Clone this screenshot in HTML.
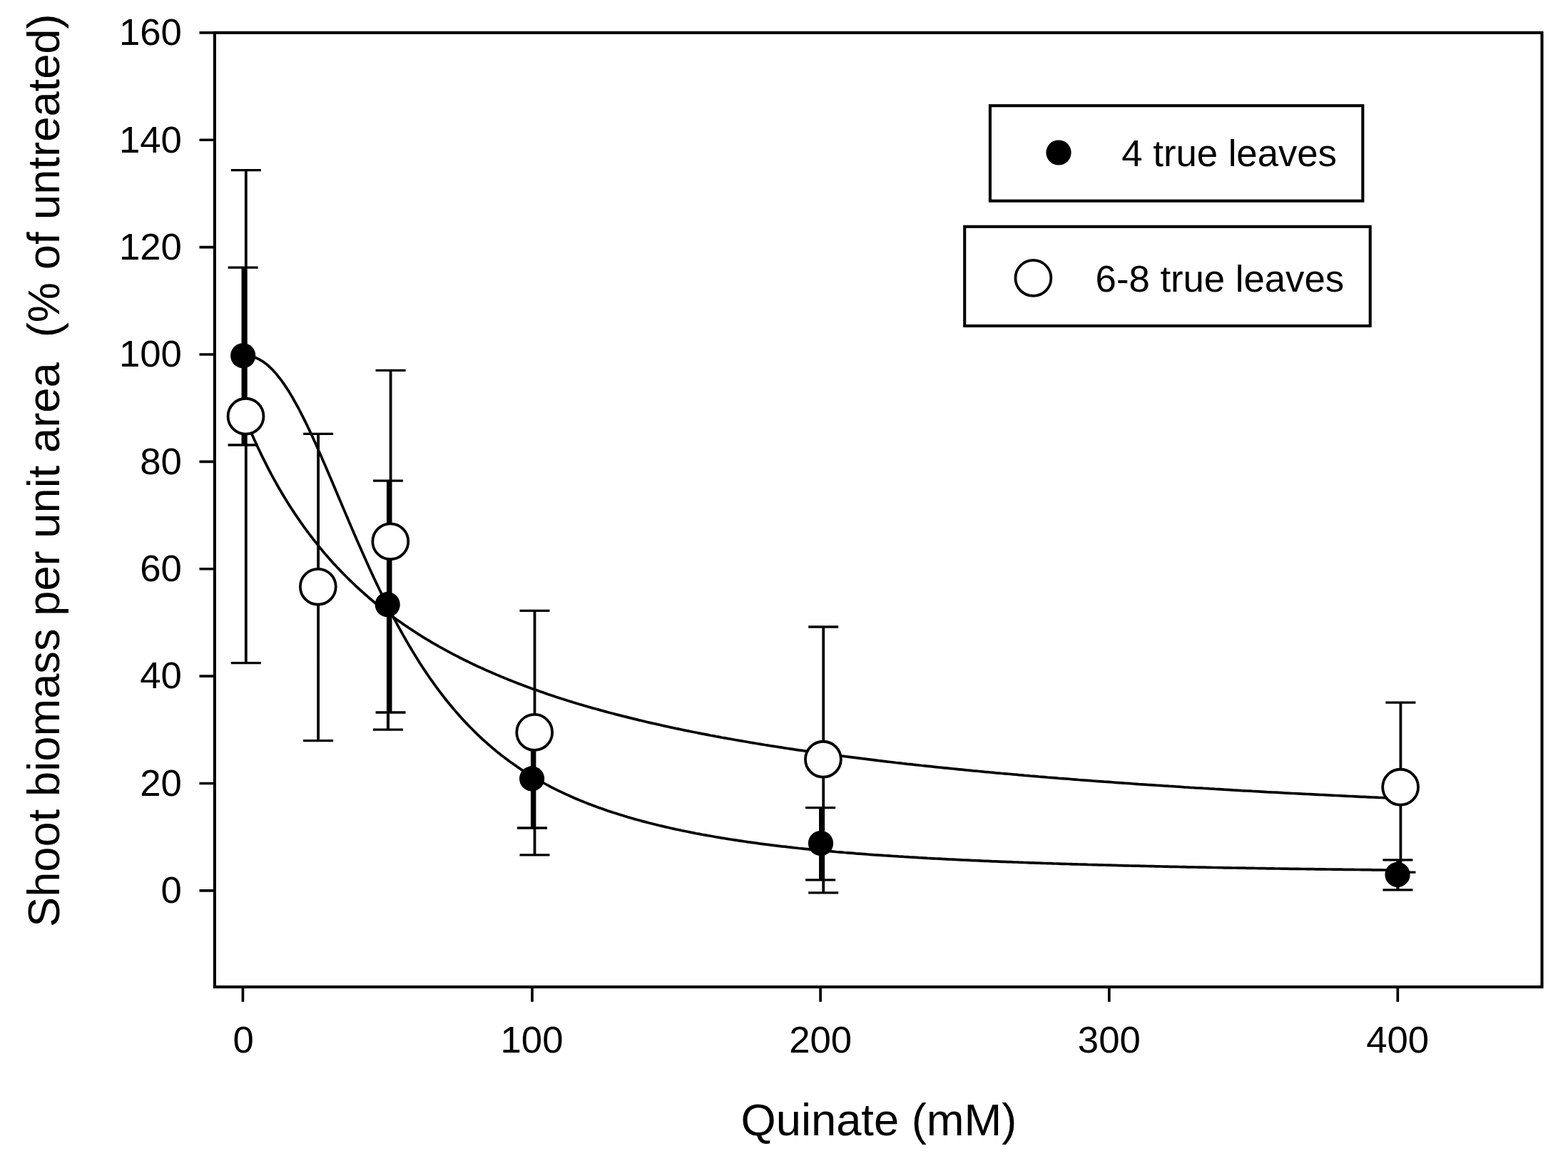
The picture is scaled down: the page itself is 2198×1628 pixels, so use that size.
<!DOCTYPE html>
<html lang="en"><head><meta charset="utf-8"><title>Quinate dose response</title>
<style>html,body{margin:0;padding:0;background:#fff}body{width:2198px;height:1628px;overflow:hidden}svg{display:block}text{font-family:"Liberation Sans",sans-serif;fill:#000}</style>
</head><body>
<svg width="2198" height="1628" viewBox="0 0 2198 1628" role="img" aria-label="Shoot biomass per unit area versus quinate dose">
<rect x="0" y="0" width="2198" height="1628" fill="#fff"/>
<g fill="none" stroke="#000" stroke-width="3.7" stroke-linejoin="round" stroke-linecap="butt">
<path d="M340.6,498.4 L342.6,498.5 L344.6,498.6 L346.6,498.7 L348.6,499.0 L350.6,499.3 L352.6,499.8 L354.6,500.3 L356.6,501.0 L358.6,501.7 L360.6,502.6 L362.6,503.5 L364.6,504.6 L366.6,505.8 L368.6,507.0 L370.6,508.4 L372.6,509.9 L374.6,511.5 L376.5,513.2 L378.5,515.1 L380.5,517.0 L382.5,519.0 L384.5,521.2 L386.5,523.4 L388.5,525.8 L390.5,528.3 L392.5,530.8 L394.5,533.5 L396.5,536.3 L398.5,539.1 L400.5,542.1 L402.5,545.2 L404.5,548.3 L406.5,551.5 L408.5,554.9 L410.5,558.3 L412.5,561.8 L414.5,565.3 L416.5,569.0 L418.5,572.7 L420.5,576.5 L422.5,580.4 L424.5,584.3 L426.5,588.3 L428.5,592.4 L430.5,596.5 L432.5,600.7 L434.5,604.9 L436.5,609.2 L438.5,613.5 L440.5,617.9 L442.5,622.3 L444.5,626.7 L446.4,631.2 L448.4,635.7 L450.4,640.3 L452.4,644.9 L454.4,649.5 L456.4,654.1 L458.4,658.8 L460.4,663.4 L462.4,668.1 L464.4,672.8 L466.4,677.5 L468.4,682.3 L470.4,687.0 L472.4,691.7 L474.4,696.5 L476.4,701.2 L478.4,705.9 L480.4,710.7 L482.4,715.4 L484.4,720.1 L486.4,724.8 L488.4,729.5 L490.4,734.2 L492.4,738.9 L494.4,743.5 L496.4,748.2 L498.4,752.8 L500.4,757.4 L502.4,762.0 L504.4,766.5 L506.4,771.1 L508.4,775.6 L510.4,780.0 L512.4,784.5 L514.4,788.9 L516.3,793.3 L518.3,797.7 L520.3,802.1 L522.3,806.4 L524.3,810.7 L526.3,814.9 L528.3,819.1 L530.3,823.3 L532.3,827.5 L534.3,831.6 L536.3,835.7 L538.3,839.7 L540.3,843.8 L542.3,847.7 L544.3,851.7 L546.3,855.6 L548.3,859.5 L550.3,863.3 L552.3,867.1 L554.3,870.9 L556.3,874.6 L558.3,878.3 L560.3,881.9 L562.3,885.5 L564.3,889.1 L566.3,892.7 L568.3,896.2 L570.3,899.6 L572.3,903.1 L574.3,906.5 L576.3,909.8 L578.3,913.1 L580.3,916.4 L582.3,919.7 L584.3,922.9 L586.2,926.1 L588.2,929.2 L590.2,932.3 L592.2,935.4 L594.2,938.4 L596.2,941.4 L598.2,944.4 L600.2,947.3 L602.2,950.2 L604.2,953.1 L606.2,955.9 L608.2,958.7 L610.2,961.5 L612.2,964.2 L614.2,966.9 L616.2,969.6 L618.2,972.2 L620.2,974.8 L622.2,977.4 L624.2,980.0 L626.2,982.5 L628.2,985.0 L630.2,987.4 L632.2,989.8 L634.2,992.2 L636.2,994.6 L638.2,996.9 L640.2,999.2 L642.2,1001.5 L644.2,1003.8 L646.2,1006.0 L648.2,1008.2 L650.2,1010.4 L652.2,1012.5 L654.2,1014.6 L656.1,1016.7 L658.1,1018.8 L660.1,1020.8 L662.1,1022.8 L664.1,1024.8 L666.1,1026.8 L668.1,1028.7 L670.1,1030.7 L672.1,1032.6 L674.1,1034.4 L676.1,1036.3 L678.1,1038.1 L680.1,1039.9 L682.1,1041.7 L684.1,1043.5 L686.1,1045.2 L688.1,1046.9 L690.1,1048.6 L692.1,1050.3 L694.1,1051.9 L696.1,1053.6 L698.1,1055.2 L700.1,1056.8 L702.1,1058.4 L704.1,1059.9 L706.1,1061.5 L708.1,1063.0 L710.1,1064.5 L712.1,1066.0 L714.1,1067.5 L716.1,1068.9 L718.1,1070.3 L720.1,1071.8 L722.1,1073.1 L724.1,1074.5 L726.0,1075.9 L728.0,1077.2 L730.0,1078.6 L732.0,1079.9 L734.0,1081.2 L736.0,1082.5 L738.0,1083.8 L740.0,1085.0 L742.0,1086.3 L744.0,1087.5 L746.0,1088.7 L748.0,1089.9 L750.0,1091.1 L752.0,1092.2 L754.0,1093.4 L756.0,1094.5 L758.0,1095.7 L760.0,1096.8 L764.0,1099.0 L768.0,1101.1 L772.0,1103.3 L776.0,1105.3 L780.0,1107.3 L784.0,1109.3 L788.0,1111.2 L792.0,1113.1 L796.0,1114.9 L800.0,1116.7 L804.0,1118.5 L808.0,1120.2 L812.0,1121.9 L816.0,1123.5 L820.0,1125.1 L824.0,1126.7 L828.0,1128.3 L832.0,1129.8 L836.0,1131.3 L840.0,1132.7 L844.0,1134.1 L848.0,1135.5 L852.0,1136.9 L856.0,1138.2 L860.0,1139.6 L864.0,1140.8 L868.0,1142.1 L872.0,1143.3 L876.0,1144.6 L880.0,1145.8 L884.1,1146.9 L888.1,1148.1 L892.1,1149.2 L896.1,1150.3 L900.1,1151.4 L904.1,1152.4 L908.1,1153.5 L912.1,1154.5 L916.1,1155.5 L920.1,1156.5 L924.1,1157.5 L928.1,1158.4 L932.1,1159.4 L936.1,1160.3 L940.1,1161.2 L944.1,1162.1 L948.1,1163.0 L952.1,1163.8 L956.1,1164.7 L960.1,1165.5 L964.1,1166.3 L968.1,1167.1 L972.1,1167.9 L976.1,1168.7 L980.1,1169.4 L984.1,1170.2 L988.1,1170.9 L992.1,1171.6 L996.1,1172.3 L1000.1,1173.0 L1004.1,1173.7 L1008.1,1174.4 L1012.1,1175.1 L1016.1,1175.7 L1020.1,1176.4 L1024.1,1177.0 L1028.1,1177.6 L1032.1,1178.2 L1036.1,1178.8 L1040.1,1179.4 L1044.1,1180.0 L1048.1,1180.6 L1052.1,1181.1 L1056.1,1181.7 L1060.1,1182.2 L1064.1,1182.8 L1068.1,1183.3 L1072.1,1183.8 L1076.1,1184.3 L1080.1,1184.8 L1084.1,1185.3 L1088.1,1185.8 L1092.1,1186.3 L1096.1,1186.8 L1100.1,1187.2 L1104.1,1187.7 L1108.1,1188.1 L1112.1,1188.6 L1116.1,1189.0 L1120.1,1189.5 L1124.2,1189.9 L1128.2,1190.3 L1132.2,1190.7 L1136.2,1191.1 L1140.2,1191.5 L1144.2,1191.9 L1148.2,1192.3 L1152.2,1192.6 L1156.2,1193.0 L1160.2,1193.4 L1164.2,1193.7 L1168.2,1194.1 L1172.2,1194.5 L1176.2,1194.8 L1180.2,1195.1 L1184.2,1195.5 L1188.2,1195.8 L1192.2,1196.1 L1196.2,1196.4 L1200.2,1196.8 L1204.2,1197.1 L1208.2,1197.4 L1212.2,1197.7 L1216.2,1198.0 L1220.2,1198.3 L1224.2,1198.6 L1228.2,1198.8 L1232.2,1199.1 L1236.2,1199.4 L1240.2,1199.7 L1244.2,1199.9 L1248.2,1200.2 L1252.2,1200.5 L1256.2,1200.7 L1260.2,1201.0 L1264.2,1201.2 L1268.2,1201.5 L1272.2,1201.7 L1276.2,1202.0 L1280.2,1202.2 L1284.2,1202.4 L1288.2,1202.7 L1292.2,1202.9 L1296.2,1203.1 L1300.2,1203.4 L1304.2,1203.6 L1308.2,1203.8 L1312.2,1204.0 L1316.2,1204.2 L1320.2,1204.4 L1324.2,1204.6 L1328.2,1204.8 L1332.2,1205.0 L1336.2,1205.2 L1340.2,1205.4 L1344.2,1205.6 L1348.2,1205.8 L1352.2,1206.0 L1356.2,1206.2 L1360.2,1206.4 L1364.3,1206.6 L1368.3,1206.7 L1372.3,1206.9 L1376.3,1207.1 L1380.3,1207.3 L1384.3,1207.4 L1388.3,1207.6 L1392.3,1207.8 L1396.3,1207.9 L1400.3,1208.1 L1404.3,1208.3 L1408.3,1208.4 L1412.3,1208.6 L1416.3,1208.7 L1420.3,1208.9 L1424.3,1209.0 L1428.3,1209.2 L1432.3,1209.3 L1436.3,1209.5 L1440.3,1209.6 L1444.3,1209.8 L1448.3,1209.9 L1452.3,1210.1 L1456.3,1210.2 L1460.3,1210.3 L1464.3,1210.5 L1468.3,1210.6 L1472.3,1210.7 L1476.3,1210.9 L1480.3,1211.0 L1484.3,1211.1 L1488.3,1211.3 L1492.3,1211.4 L1496.3,1211.5 L1500.3,1211.6 L1504.3,1211.8 L1508.3,1211.9 L1512.3,1212.0 L1516.3,1212.1 L1520.3,1212.2 L1524.3,1212.4 L1528.3,1212.5 L1532.3,1212.6 L1536.3,1212.7 L1540.3,1212.8 L1544.3,1212.9 L1548.3,1213.0 L1552.3,1213.1 L1556.3,1213.2 L1560.3,1213.3 L1564.3,1213.4 L1568.3,1213.6 L1572.3,1213.7 L1576.3,1213.8 L1580.3,1213.9 L1584.3,1214.0 L1588.3,1214.1 L1592.3,1214.2 L1596.3,1214.2 L1600.3,1214.3 L1604.4,1214.4 L1608.4,1214.5 L1612.4,1214.6 L1616.4,1214.7 L1620.4,1214.8 L1624.4,1214.9 L1628.4,1215.0 L1632.4,1215.1 L1636.4,1215.2 L1640.4,1215.3 L1644.4,1215.3 L1648.4,1215.4 L1652.4,1215.5 L1656.4,1215.6 L1660.4,1215.7 L1664.4,1215.8 L1668.4,1215.8 L1672.4,1215.9 L1676.4,1216.0 L1680.4,1216.1 L1684.4,1216.2 L1688.4,1216.2 L1692.4,1216.3 L1696.4,1216.4 L1700.4,1216.5 L1704.4,1216.5 L1708.4,1216.6 L1712.4,1216.7 L1716.4,1216.8 L1720.4,1216.8 L1724.4,1216.9 L1728.4,1217.0 L1732.4,1217.0 L1736.4,1217.1 L1740.4,1217.2 L1744.4,1217.2 L1748.4,1217.3 L1752.4,1217.4 L1756.4,1217.4 L1760.4,1217.5 L1764.4,1217.6 L1768.4,1217.6 L1772.4,1217.7 L1776.4,1217.8 L1780.4,1217.8 L1784.4,1217.9 L1788.4,1218.0 L1792.4,1218.0 L1796.4,1218.1 L1800.4,1218.1 L1804.4,1218.2 L1808.4,1218.3 L1812.4,1218.3 L1816.4,1218.4 L1820.4,1218.4 L1824.4,1218.5 L1828.4,1218.5 L1832.4,1218.6 L1836.4,1218.7 L1840.4,1218.7 L1844.5,1218.8 L1848.5,1218.8 L1852.5,1218.9 L1856.5,1218.9 L1860.5,1219.0 L1864.5,1219.0 L1868.5,1219.1 L1872.5,1219.1 L1876.5,1219.2 L1880.5,1219.2 L1884.5,1219.3 L1888.5,1219.3 L1892.5,1219.4 L1896.5,1219.4 L1900.5,1219.5 L1904.5,1219.5 L1908.5,1219.6 L1912.5,1219.6 L1916.5,1219.7 L1920.5,1219.7 L1924.5,1219.8 L1928.5,1219.8 L1932.5,1219.9 L1936.5,1219.9 L1940.5,1220.0 L1944.5,1220.0 L1948.5,1220.0 L1952.5,1220.1 L1956.5,1220.1 L1960.5,1220.2"/>
<path d="M340.6,579.0 L342.6,584.0 L344.6,588.9 L346.6,593.7 L348.6,598.5 L350.6,603.1 L352.6,607.7 L354.6,612.3 L356.6,616.7 L358.6,621.1 L360.6,625.5 L362.6,629.7 L364.6,633.9 L366.6,638.1 L368.6,642.2 L370.6,646.2 L372.6,650.2 L374.6,654.1 L376.5,657.9 L378.5,661.7 L380.5,665.5 L382.5,669.2 L384.5,672.8 L386.5,676.4 L388.5,680.0 L390.5,683.5 L392.5,686.9 L394.5,690.3 L396.5,693.7 L398.5,697.0 L400.5,700.3 L402.5,703.5 L404.5,706.7 L406.5,709.9 L408.5,713.0 L410.5,716.0 L412.5,719.1 L414.5,722.1 L416.5,725.0 L418.5,727.9 L420.5,730.8 L422.5,733.7 L424.5,736.5 L426.5,739.3 L428.5,742.0 L430.5,744.8 L432.5,747.5 L434.5,750.1 L436.5,752.7 L438.5,755.3 L440.5,757.9 L442.5,760.4 L444.5,762.9 L446.4,765.4 L448.4,767.9 L450.4,770.3 L452.4,772.7 L454.4,775.1 L456.4,777.4 L458.4,779.7 L460.4,782.0 L462.4,784.3 L464.4,786.5 L466.4,788.7 L468.4,790.9 L470.4,793.1 L472.4,795.3 L474.4,797.4 L476.4,799.5 L478.4,801.6 L480.4,803.6 L482.4,805.7 L484.4,807.7 L486.4,809.7 L488.4,811.7 L490.4,813.6 L492.4,815.6 L494.4,817.5 L496.4,819.4 L498.4,821.3 L500.4,823.2 L502.4,825.0 L504.4,826.8 L506.4,828.6 L508.4,830.4 L510.4,832.2 L512.4,834.0 L514.4,835.7 L516.3,837.4 L518.3,839.2 L520.3,840.8 L522.3,842.5 L524.3,844.2 L526.3,845.8 L528.3,847.5 L530.3,849.1 L532.3,850.7 L534.3,852.3 L536.3,853.9 L538.3,855.4 L540.3,857.0 L542.3,858.5 L544.3,860.0 L546.3,861.5 L548.3,863.0 L550.3,864.5 L552.3,866.0 L554.3,867.4 L556.3,868.9 L558.3,870.3 L560.3,871.7 L562.3,873.1 L564.3,874.5 L566.3,875.9 L568.3,877.3 L570.3,878.6 L572.3,880.0 L574.3,881.3 L576.3,882.6 L578.3,883.9 L580.3,885.2 L582.3,886.5 L584.3,887.8 L586.2,889.1 L588.2,890.3 L590.2,891.6 L592.2,892.8 L594.2,894.1 L596.2,895.3 L598.2,896.5 L600.2,897.7 L602.2,898.9 L604.2,900.1 L606.2,901.3 L608.2,902.4 L610.2,903.6 L612.2,904.7 L614.2,905.9 L616.2,907.0 L618.2,908.1 L620.2,909.2 L622.2,910.3 L624.2,911.4 L626.2,912.5 L628.2,913.6 L630.2,914.7 L632.2,915.7 L634.2,916.8 L636.2,917.8 L638.2,918.9 L640.2,919.9 L642.2,920.9 L644.2,922.0 L646.2,923.0 L648.2,924.0 L650.2,925.0 L652.2,926.0 L654.2,927.0 L656.1,927.9 L658.1,928.9 L660.1,929.9 L662.1,930.8 L664.1,931.8 L666.1,932.7 L668.1,933.6 L670.1,934.6 L672.1,935.5 L674.1,936.4 L676.1,937.3 L678.1,938.2 L680.1,939.1 L682.1,940.0 L684.1,940.9 L686.1,941.8 L688.1,942.6 L690.1,943.5 L692.1,944.4 L694.1,945.2 L696.1,946.1 L698.1,946.9 L700.1,947.8 L702.1,948.6 L704.1,949.4 L706.1,950.3 L708.1,951.1 L710.1,951.9 L712.1,952.7 L714.1,953.5 L716.1,954.3 L718.1,955.1 L720.1,955.9 L722.1,956.7 L724.1,957.4 L726.0,958.2 L728.0,959.0 L730.0,959.7 L732.0,960.5 L734.0,961.2 L736.0,962.0 L738.0,962.7 L740.0,963.5 L742.0,964.2 L744.0,964.9 L746.0,965.7 L748.0,966.4 L750.0,967.1 L752.0,967.8 L754.0,968.5 L756.0,969.2 L758.0,969.9 L760.0,970.6 L764.0,972.0 L768.0,973.4 L772.0,974.7 L776.0,976.0 L780.0,977.4 L784.0,978.7 L788.0,980.0 L792.0,981.2 L796.0,982.5 L800.0,983.7 L804.0,985.0 L808.0,986.2 L812.0,987.4 L816.0,988.6 L820.0,989.7 L824.0,990.9 L828.0,992.1 L832.0,993.2 L836.0,994.3 L840.0,995.4 L844.0,996.5 L848.0,997.6 L852.0,998.7 L856.0,999.8 L860.0,1000.8 L864.0,1001.9 L868.0,1002.9 L872.0,1003.9 L876.0,1004.9 L880.0,1005.9 L884.1,1006.9 L888.1,1007.9 L892.1,1008.9 L896.1,1009.9 L900.1,1010.8 L904.1,1011.8 L908.1,1012.7 L912.1,1013.6 L916.1,1014.5 L920.1,1015.4 L924.1,1016.3 L928.1,1017.2 L932.1,1018.1 L936.1,1019.0 L940.1,1019.9 L944.1,1020.7 L948.1,1021.6 L952.1,1022.4 L956.1,1023.2 L960.1,1024.1 L964.1,1024.9 L968.1,1025.7 L972.1,1026.5 L976.1,1027.3 L980.1,1028.1 L984.1,1028.9 L988.1,1029.6 L992.1,1030.4 L996.1,1031.2 L1000.1,1031.9 L1004.1,1032.7 L1008.1,1033.4 L1012.1,1034.2 L1016.1,1034.9 L1020.1,1035.6 L1024.1,1036.3 L1028.1,1037.0 L1032.1,1037.7 L1036.1,1038.4 L1040.1,1039.1 L1044.1,1039.8 L1048.1,1040.5 L1052.1,1041.2 L1056.1,1041.8 L1060.1,1042.5 L1064.1,1043.2 L1068.1,1043.8 L1072.1,1044.5 L1076.1,1045.1 L1080.1,1045.8 L1084.1,1046.4 L1088.1,1047.0 L1092.1,1047.6 L1096.1,1048.2 L1100.1,1048.9 L1104.1,1049.5 L1108.1,1050.1 L1112.1,1050.7 L1116.1,1051.3 L1120.1,1051.9 L1124.2,1052.4 L1128.2,1053.0 L1132.2,1053.6 L1136.2,1054.2 L1140.2,1054.7 L1144.2,1055.3 L1148.2,1055.8 L1152.2,1056.4 L1156.2,1057.0 L1160.2,1057.5 L1164.2,1058.0 L1168.2,1058.6 L1172.2,1059.1 L1176.2,1059.6 L1180.2,1060.2 L1184.2,1060.7 L1188.2,1061.2 L1192.2,1061.7 L1196.2,1062.2 L1200.2,1062.7 L1204.2,1063.2 L1208.2,1063.7 L1212.2,1064.2 L1216.2,1064.7 L1220.2,1065.2 L1224.2,1065.7 L1228.2,1066.2 L1232.2,1066.7 L1236.2,1067.1 L1240.2,1067.6 L1244.2,1068.1 L1248.2,1068.5 L1252.2,1069.0 L1256.2,1069.5 L1260.2,1069.9 L1264.2,1070.4 L1268.2,1070.8 L1272.2,1071.3 L1276.2,1071.7 L1280.2,1072.2 L1284.2,1072.6 L1288.2,1073.0 L1292.2,1073.5 L1296.2,1073.9 L1300.2,1074.3 L1304.2,1074.7 L1308.2,1075.2 L1312.2,1075.6 L1316.2,1076.0 L1320.2,1076.4 L1324.2,1076.8 L1328.2,1077.2 L1332.2,1077.6 L1336.2,1078.0 L1340.2,1078.4 L1344.2,1078.8 L1348.2,1079.2 L1352.2,1079.6 L1356.2,1080.0 L1360.2,1080.4 L1364.3,1080.8 L1368.3,1081.1 L1372.3,1081.5 L1376.3,1081.9 L1380.3,1082.3 L1384.3,1082.6 L1388.3,1083.0 L1392.3,1083.4 L1396.3,1083.8 L1400.3,1084.1 L1404.3,1084.5 L1408.3,1084.8 L1412.3,1085.2 L1416.3,1085.5 L1420.3,1085.9 L1424.3,1086.2 L1428.3,1086.6 L1432.3,1086.9 L1436.3,1087.3 L1440.3,1087.6 L1444.3,1088.0 L1448.3,1088.3 L1452.3,1088.6 L1456.3,1089.0 L1460.3,1089.3 L1464.3,1089.6 L1468.3,1090.0 L1472.3,1090.3 L1476.3,1090.6 L1480.3,1090.9 L1484.3,1091.3 L1488.3,1091.6 L1492.3,1091.9 L1496.3,1092.2 L1500.3,1092.5 L1504.3,1092.8 L1508.3,1093.1 L1512.3,1093.5 L1516.3,1093.8 L1520.3,1094.1 L1524.3,1094.4 L1528.3,1094.7 L1532.3,1095.0 L1536.3,1095.3 L1540.3,1095.6 L1544.3,1095.9 L1548.3,1096.2 L1552.3,1096.4 L1556.3,1096.7 L1560.3,1097.0 L1564.3,1097.3 L1568.3,1097.6 L1572.3,1097.9 L1576.3,1098.2 L1580.3,1098.4 L1584.3,1098.7 L1588.3,1099.0 L1592.3,1099.3 L1596.3,1099.6 L1600.3,1099.8 L1604.4,1100.1 L1608.4,1100.4 L1612.4,1100.6 L1616.4,1100.9 L1620.4,1101.2 L1624.4,1101.4 L1628.4,1101.7 L1632.4,1102.0 L1636.4,1102.2 L1640.4,1102.5 L1644.4,1102.7 L1648.4,1103.0 L1652.4,1103.2 L1656.4,1103.5 L1660.4,1103.8 L1664.4,1104.0 L1668.4,1104.3 L1672.4,1104.5 L1676.4,1104.8 L1680.4,1105.0 L1684.4,1105.2 L1688.4,1105.5 L1692.4,1105.7 L1696.4,1106.0 L1700.4,1106.2 L1704.4,1106.5 L1708.4,1106.7 L1712.4,1106.9 L1716.4,1107.2 L1720.4,1107.4 L1724.4,1107.6 L1728.4,1107.9 L1732.4,1108.1 L1736.4,1108.3 L1740.4,1108.6 L1744.4,1108.8 L1748.4,1109.0 L1752.4,1109.2 L1756.4,1109.5 L1760.4,1109.7 L1764.4,1109.9 L1768.4,1110.1 L1772.4,1110.3 L1776.4,1110.6 L1780.4,1110.8 L1784.4,1111.0 L1788.4,1111.2 L1792.4,1111.4 L1796.4,1111.6 L1800.4,1111.9 L1804.4,1112.1 L1808.4,1112.3 L1812.4,1112.5 L1816.4,1112.7 L1820.4,1112.9 L1824.4,1113.1 L1828.4,1113.3 L1832.4,1113.5 L1836.4,1113.7 L1840.4,1113.9 L1844.5,1114.1 L1848.5,1114.3 L1852.5,1114.5 L1856.5,1114.7 L1860.5,1114.9 L1864.5,1115.1 L1868.5,1115.3 L1872.5,1115.5 L1876.5,1115.7 L1880.5,1115.9 L1884.5,1116.1 L1888.5,1116.3 L1892.5,1116.5 L1896.5,1116.7 L1900.5,1116.9 L1904.5,1117.1 L1908.5,1117.3 L1912.5,1117.4 L1916.5,1117.6 L1920.5,1117.8 L1924.5,1118.0 L1928.5,1118.2 L1932.5,1118.4 L1936.5,1118.5 L1940.5,1118.7 L1944.5,1118.9 L1948.5,1119.1 L1952.5,1119.3 L1956.5,1119.4 L1960.5,1119.6"/>
</g>
<g fill="none" stroke="#000" stroke-width="4.1" stroke-linecap="butt">
<path d="M340.6,375.1 V624.0 M544.0,674.1 V1023.1 M746.0,1023.0 V1161.0 M1150.1,1132.6 V1233.8 M1959.4,1205.9 V1247.9"/>
<path stroke-width="3.8" d="M344.8,238.6 V929.6 M446.1,608.4 V1038.6 M547.6,519.3 V999.0 M749.5,856.3 V1198.8 M1154.2,879.0 V1251.8 M1963.4,985.2 V1223.2"/>
<path stroke-width="3" d="M342.70,375.1 V624.0 M545.80,674.1 V999.0 M747.75,1023.0 V1161.0 M1152.15,1132.6 V1233.8 M1961.40,1205.9 V1223.2"/>
</g>
<g fill="none" stroke="#000" stroke-width="3.3" stroke-linecap="butt">
<path d="M323.8,238.6 H365.8 M323.8,929.6 H365.8 M425.1,608.4 H467.1 M425.1,1038.6 H467.1 M526.6,519.3 H568.6 M526.6,999.0 H568.6 M728.5,856.3 H770.5 M728.5,1198.8 H770.5 M1133.2,879.0 H1175.2 M1133.2,1251.8 H1175.2 M1942.4,985.2 H1984.4 M1942.4,1223.2 H1984.4 M319.6,375.1 H361.6 M319.6,624.0 H361.6 M523.0,674.1 H565.0 M523.0,1023.1 H565.0 M725.0,1023.0 H767.0 M725.0,1161.0 H767.0 M1129.1,1132.6 H1171.1 M1129.1,1233.8 H1171.1 M1938.4,1205.9 H1980.4 M1938.4,1247.9 H1980.4"/>
</g>
<g stroke="#000" stroke-width="3.8" fill="#fff">
<circle cx="344.5" cy="583.7" r="24.95"/>
<circle cx="445.8" cy="822.8" r="24.95"/>
<circle cx="547.3" cy="759.3" r="24.95"/>
<circle cx="749.2" cy="1026.9" r="24.95"/>
<circle cx="1153.9" cy="1064.7" r="24.95"/>
<circle cx="1963.1" cy="1103.7" r="24.95"/>
</g>
<g fill="#000">
<circle cx="340.7" cy="498.8" r="17.6"/>
<circle cx="543.2" cy="847.7" r="17.6"/>
<circle cx="745.6" cy="1091.9" r="17.6"/>
<circle cx="1150.5" cy="1182.5" r="17.6"/>
<circle cx="1959.0" cy="1226.4" r="17.6"/>
</g>
<g fill="none" stroke="#000" stroke-width="4.1" stroke-linecap="butt" stroke-linejoin="miter">
<rect x="300.9" y="45.85" width="1860.60" height="1338.05"/>
</g>
<g fill="none" stroke="#000" stroke-width="3.7" stroke-linecap="butt">
<path d="M279.5,1248.90 H300.9 M279.5,1098.52 H300.9 M279.5,948.14 H300.9 M279.5,797.76 H300.9 M279.5,647.38 H300.9 M279.5,497.00 H300.9 M279.5,346.62 H300.9 M279.5,196.24 H300.9 M279.5,45.85 H300.9 M340.40,1383.9 V1404.7 M746.00,1383.9 V1404.7 M1150.10,1383.9 V1404.7 M1554.80,1383.9 V1404.7 M1959.30,1383.9 V1404.7"/>
</g>
<g font-size="52.7" text-anchor="end">
<text x="254.9" y="1266.2">0</text>
<text x="254.9" y="1115.8">20</text>
<text x="254.9" y="965.4">40</text>
<text x="254.9" y="815.1">60</text>
<text x="254.9" y="664.7">80</text>
<text x="254.9" y="514.3">100</text>
<text x="254.9" y="363.9">120</text>
<text x="254.9" y="213.5">140</text>
<text x="254.9" y="63.2">160</text>
</g>
<g font-size="52.7" text-anchor="middle">
<text x="341.1" y="1475.6">0</text>
<text x="745.5" y="1475.6">100</text>
<text x="1150.1" y="1475.6">200</text>
<text x="1554.8" y="1475.6">300</text>
<text x="1959.1" y="1475.6">400</text>
</g>
<text x="1231.9" y="1591.5" font-size="63.3" text-anchor="middle">Quinate (mM)</text>
<text transform="translate(82.5,659.7) rotate(-90)" font-size="63.3" text-anchor="middle" xml:space="preserve" style="white-space:pre">Shoot biomass per unit area  (% of untreated)</text>
<g fill="#fff" stroke="#000" stroke-width="4.1">
<rect x="1387.9" y="148.2" width="522.4" height="133.5"/>
<rect x="1352.2" y="317.8" width="568.5" height="139.2"/>
</g>
<circle cx="1484" cy="214" r="17.6" fill="#000"/>
<circle cx="1448.4" cy="389.9" r="24.95" fill="#fff" stroke="#000" stroke-width="3.8"/>
<text x="1572.3" y="232.6" font-size="52.7">4 true leaves</text>
<text x="1535.6" y="408.8" font-size="52.7">6-8 true leaves</text>
</svg>
</body></html>
